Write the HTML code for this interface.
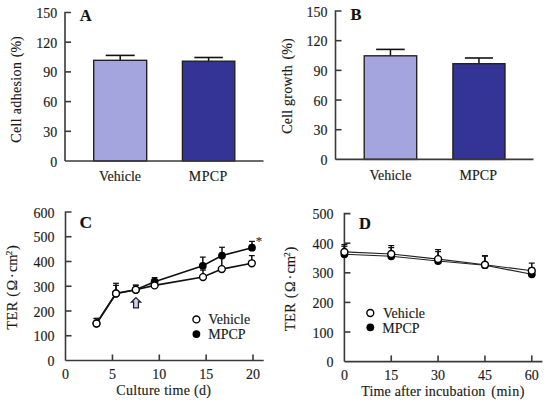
<!DOCTYPE html>
<html><head><meta charset="utf-8"><title>Figure</title>
<style>
html,body{margin:0;padding:0;background:#fff;}
svg{display:block;}
text{font-family:"Liberation Serif",serif;stroke:#1a1a1a;stroke-width:0.15px;}
</style></head>
<body>
<svg width="550" height="405" viewBox="0 0 550 405" font-family="Liberation Serif">
<rect width="550" height="405" fill="#fff"/>
<line x1="120.2" y1="55.4" x2="120.2" y2="60.3" stroke="#111" stroke-width="1.5"/>
<line x1="105.7" y1="55.4" x2="134.7" y2="55.4" stroke="#111" stroke-width="1.6"/>
<rect x="93.7" y="60.3" width="53" height="100.7" fill="#a4a4de" stroke="#1e1e1e" stroke-width="1.35"/>
<line x1="208.6" y1="57.5" x2="208.6" y2="61.2" stroke="#111" stroke-width="1.5"/>
<line x1="194.35" y1="57.5" x2="222.85" y2="57.5" stroke="#111" stroke-width="1.6"/>
<rect x="182.4" y="61.2" width="52.4" height="99.8" fill="#343496" stroke="#1e1e1e" stroke-width="1.35"/>
<path d="M71 12.5 H65 V161" fill="none" stroke="#3a3a3a" stroke-width="1.6"/>
<text x="57.2" y="166.5" text-anchor="end" font-size="14" font-weight="normal" fill="#1a1a1a" >0</text>
<line x1="65" y1="131.3" x2="71" y2="131.3" stroke="#3a3a3a" stroke-width="1.6" />
<text x="57.2" y="136.8" text-anchor="end" font-size="14" font-weight="normal" fill="#1a1a1a" >30</text>
<line x1="65" y1="101.6" x2="71" y2="101.6" stroke="#3a3a3a" stroke-width="1.6" />
<text x="57.2" y="107.1" text-anchor="end" font-size="14" font-weight="normal" fill="#1a1a1a" >60</text>
<line x1="65" y1="71.9" x2="71" y2="71.9" stroke="#3a3a3a" stroke-width="1.6" />
<text x="57.2" y="77.4" text-anchor="end" font-size="14" font-weight="normal" fill="#1a1a1a" >90</text>
<line x1="65" y1="42.2" x2="71" y2="42.2" stroke="#3a3a3a" stroke-width="1.6" />
<text x="57.2" y="47.7" text-anchor="end" font-size="14" font-weight="normal" fill="#1a1a1a" >120</text>
<text x="57.2" y="18.0" text-anchor="end" font-size="14" font-weight="normal" fill="#1a1a1a" >150</text>
<line x1="65" y1="161" x2="263.5" y2="161" stroke="#3a3a3a" stroke-width="1.6" />
<text x="120" y="180.5" text-anchor="middle" font-size="14" font-weight="normal" fill="#1a1a1a" >Vehicle</text>
<text x="208.1" y="180.5" text-anchor="middle" font-size="14" font-weight="normal" fill="#1a1a1a" textLength="38.6" lengthAdjust="spacing">MPCP</text>
<text x="79.8" y="21.4" text-anchor="start" font-size="16.5" font-weight="bold" fill="#111" >A</text>
<g transform="translate(21.3,142.7) rotate(-90)" fill="#1a1a1a" font-size="14"><text x="0" y="0" textLength="80.6" lengthAdjust="spacing">Cell adhesion</text><text x="85.5" y="0">(%)</text></g>
<line x1="390.45" y1="49.4" x2="390.45" y2="55.8" stroke="#111" stroke-width="1.5"/>
<line x1="376.15" y1="49.4" x2="404.75" y2="49.4" stroke="#111" stroke-width="1.6"/>
<rect x="364.2" y="55.8" width="52.5" height="103.6" fill="#a4a4de" stroke="#1e1e1e" stroke-width="1.35"/>
<line x1="478.95" y1="58" x2="478.95" y2="63.7" stroke="#111" stroke-width="1.5"/>
<line x1="464.9" y1="58" x2="493.0" y2="58" stroke="#111" stroke-width="1.6"/>
<rect x="452.9" y="63.7" width="52.1" height="95.7" fill="#343496" stroke="#1e1e1e" stroke-width="1.35"/>
<path d="M341.5 11 H335.5 V159.4" fill="none" stroke="#3a3a3a" stroke-width="1.6"/>
<text x="327.5" y="164.9" text-anchor="end" font-size="14" font-weight="normal" fill="#1a1a1a" >0</text>
<line x1="335.5" y1="129.72" x2="341.5" y2="129.72" stroke="#3a3a3a" stroke-width="1.6" />
<text x="327.5" y="135.22" text-anchor="end" font-size="14" font-weight="normal" fill="#1a1a1a" >30</text>
<line x1="335.5" y1="100.04" x2="341.5" y2="100.04" stroke="#3a3a3a" stroke-width="1.6" />
<text x="327.5" y="105.54" text-anchor="end" font-size="14" font-weight="normal" fill="#1a1a1a" >60</text>
<line x1="335.5" y1="70.36" x2="341.5" y2="70.36" stroke="#3a3a3a" stroke-width="1.6" />
<text x="327.5" y="75.86" text-anchor="end" font-size="14" font-weight="normal" fill="#1a1a1a" >90</text>
<line x1="335.5" y1="40.68" x2="341.5" y2="40.68" stroke="#3a3a3a" stroke-width="1.6" />
<text x="327.5" y="46.18" text-anchor="end" font-size="14" font-weight="normal" fill="#1a1a1a" >120</text>
<text x="327.5" y="16.5" text-anchor="end" font-size="14" font-weight="normal" fill="#1a1a1a" >150</text>
<line x1="335.5" y1="159.4" x2="533.5" y2="159.4" stroke="#3a3a3a" stroke-width="1.6" />
<text x="390.4" y="179.8" text-anchor="middle" font-size="14" font-weight="normal" fill="#1a1a1a" >Vehicle</text>
<text x="478.3" y="179.8" text-anchor="middle" font-size="14" font-weight="normal" fill="#1a1a1a" >MPCP</text>
<text x="350.5" y="20.2" text-anchor="start" font-size="16.5" font-weight="bold" fill="#111" >B</text>
<g transform="translate(291.5,133.8) rotate(-90)" fill="#1a1a1a" font-size="14"><text x="0" y="0" textLength="68.6" lengthAdjust="spacing">Cell growth</text><text x="74.4" y="0">(%)</text></g>
<path d="M71.5 212 H65.5 V360.5" fill="none" stroke="#3a3a3a" stroke-width="1.6"/>
<text x="54.6" y="366.0" text-anchor="end" font-size="14" font-weight="normal" fill="#1a1a1a" >0</text>
<line x1="65.5" y1="335.75" x2="71.5" y2="335.75" stroke="#3a3a3a" stroke-width="1.6" />
<text x="54.6" y="341.25" text-anchor="end" font-size="14" font-weight="normal" fill="#1a1a1a" >100</text>
<line x1="65.5" y1="311.0" x2="71.5" y2="311.0" stroke="#3a3a3a" stroke-width="1.6" />
<text x="54.6" y="316.5" text-anchor="end" font-size="14" font-weight="normal" fill="#1a1a1a" >200</text>
<line x1="65.5" y1="286.25" x2="71.5" y2="286.25" stroke="#3a3a3a" stroke-width="1.6" />
<text x="54.6" y="291.75" text-anchor="end" font-size="14" font-weight="normal" fill="#1a1a1a" >300</text>
<line x1="65.5" y1="261.5" x2="71.5" y2="261.5" stroke="#3a3a3a" stroke-width="1.6" />
<text x="54.6" y="267.0" text-anchor="end" font-size="14" font-weight="normal" fill="#1a1a1a" >400</text>
<line x1="65.5" y1="236.75" x2="71.5" y2="236.75" stroke="#3a3a3a" stroke-width="1.6" />
<text x="54.6" y="242.25" text-anchor="end" font-size="14" font-weight="normal" fill="#1a1a1a" >500</text>
<text x="54.6" y="217.5" text-anchor="end" font-size="14" font-weight="normal" fill="#1a1a1a" >600</text>
<path d="M65.5 360.5 H263.7" stroke="#3a3a3a" stroke-width="1.6"/>
<line x1="112.45" y1="360.5" x2="112.45" y2="354.5" stroke="#3a3a3a" stroke-width="1.6" />
<line x1="159.3" y1="360.5" x2="159.3" y2="354.5" stroke="#3a3a3a" stroke-width="1.6" />
<line x1="206.15" y1="360.5" x2="206.15" y2="354.5" stroke="#3a3a3a" stroke-width="1.6" />
<line x1="253" y1="360.5" x2="253" y2="354.5" stroke="#3a3a3a" stroke-width="1.6" />
<text x="65.6" y="379.1" text-anchor="middle" font-size="14" font-weight="normal" fill="#1a1a1a" >0</text>
<text x="112.45" y="379.1" text-anchor="middle" font-size="14" font-weight="normal" fill="#1a1a1a" >5</text>
<text x="159.3" y="379.1" text-anchor="middle" font-size="14" font-weight="normal" fill="#1a1a1a" >10</text>
<text x="206.15" y="379.1" text-anchor="middle" font-size="14" font-weight="normal" fill="#1a1a1a" >15</text>
<text x="253.0" y="379.1" text-anchor="middle" font-size="14" font-weight="normal" fill="#1a1a1a" >20</text>
<text x="79.6" y="228" text-anchor="start" font-size="17.5" font-weight="bold" fill="#111" >C</text>
<g transform="translate(16.5,329.5) rotate(-90)" fill="#1a1a1a" font-size="14.5"><text x="-0.3" y="0" textLength="28.3" lengthAdjust="spacing">TER</text><text x="32.7" y="0">(</text><text x="39.0" y="0" font-size="15" textLength="10.6" lengthAdjust="spacingAndGlyphs">Ω</text><text x="51.6" y="0">·</text><text x="57.4" y="0">cm</text><text x="74.2" y="-4.4" font-size="9">2</text><text x="79.5" y="0">)</text></g>
<text x="163.6" y="395.2" text-anchor="middle" font-size="14" font-weight="normal" fill="#1a1a1a" textLength="94.5" lengthAdjust="spacing">Culture time (d)</text>
<line x1="96.5" y1="323.5" x2="96.5" y2="318.6" stroke="#111" stroke-width="1.5"/>
<line x1="93.6" y1="318.6" x2="99.4" y2="318.6" stroke="#111" stroke-width="1.25"/>
<line x1="116" y1="293.5" x2="116" y2="285.4" stroke="#111" stroke-width="1.5"/>
<line x1="113.1" y1="285.4" x2="118.9" y2="285.4" stroke="#111" stroke-width="1.25"/>
<line x1="135.8" y1="289.8" x2="135.8" y2="285.2" stroke="#111" stroke-width="1.5"/>
<line x1="132.9" y1="285.2" x2="138.7" y2="285.2" stroke="#111" stroke-width="1.25"/>
<line x1="154.6" y1="281.7" x2="154.6" y2="277.6" stroke="#111" stroke-width="1.5"/>
<line x1="151.7" y1="277.6" x2="157.5" y2="277.6" stroke="#111" stroke-width="1.25"/>
<line x1="202.8" y1="265.8" x2="202.8" y2="257.1" stroke="#111" stroke-width="1.5"/>
<line x1="199.9" y1="257.1" x2="205.7" y2="257.1" stroke="#111" stroke-width="1.25"/>
<line x1="222" y1="255.6" x2="222" y2="247.3" stroke="#111" stroke-width="1.5"/>
<line x1="219.1" y1="247.3" x2="224.9" y2="247.3" stroke="#111" stroke-width="1.25"/>
<line x1="252" y1="247.7" x2="252" y2="241.4" stroke="#111" stroke-width="1.5"/>
<line x1="249.1" y1="241.4" x2="254.9" y2="241.4" stroke="#111" stroke-width="1.25"/>
<line x1="96.5" y1="323.5" x2="96.5" y2="318.3" stroke="#111" stroke-width="1.5"/>
<line x1="93.6" y1="318.3" x2="99.4" y2="318.3" stroke="#111" stroke-width="1.25"/>
<line x1="116" y1="293.5" x2="116" y2="283.3" stroke="#111" stroke-width="1.5"/>
<line x1="113.1" y1="283.3" x2="118.9" y2="283.3" stroke="#111" stroke-width="1.25"/>
<line x1="135.8" y1="289.8" x2="135.8" y2="285.2" stroke="#111" stroke-width="1.5"/>
<line x1="132.9" y1="285.2" x2="138.7" y2="285.2" stroke="#111" stroke-width="1.25"/>
<line x1="203" y1="277.1" x2="203" y2="270.1" stroke="#111" stroke-width="1.5"/>
<line x1="200.1" y1="270.1" x2="205.9" y2="270.1" stroke="#111" stroke-width="1.25"/>
<line x1="221.8" y1="269.1" x2="221.8" y2="256" stroke="#111" stroke-width="1.5"/>
<line x1="218.9" y1="256" x2="224.7" y2="256" stroke="#111" stroke-width="1.25"/>
<line x1="251.8" y1="263.3" x2="251.8" y2="255.6" stroke="#111" stroke-width="1.5"/>
<line x1="248.9" y1="255.6" x2="254.7" y2="255.6" stroke="#111" stroke-width="1.25"/>
<polyline points="96.5,323.5 116,293.5 135.8,289.8 154.6,281.7 202.8,265.8 222,255.6 252,247.7" fill="none" stroke="#111" stroke-width="1.6"/>
<polyline points="96.5,323.5 116,293.5 135.8,289.8 154.6,285.4 203,277.1 221.8,269.1 251.8,263.3" fill="none" stroke="#111" stroke-width="1.6"/>
<circle cx="96.5" cy="323.5" r="3.9" fill="#000"/>
<circle cx="116" cy="293.5" r="3.9" fill="#000"/>
<circle cx="135.8" cy="289.8" r="3.9" fill="#000"/>
<circle cx="154.6" cy="281.7" r="3.9" fill="#000"/>
<circle cx="202.8" cy="265.8" r="3.9" fill="#000"/>
<circle cx="222" cy="255.6" r="3.9" fill="#000"/>
<circle cx="252" cy="247.7" r="3.9" fill="#000"/>
<circle cx="96.5" cy="323.5" r="3.45" fill="#fff" stroke="#000" stroke-width="1.4"/>
<circle cx="116" cy="293.5" r="3.45" fill="#fff" stroke="#000" stroke-width="1.4"/>
<circle cx="135.8" cy="289.8" r="3.45" fill="#fff" stroke="#000" stroke-width="1.4"/>
<circle cx="154.6" cy="285.4" r="3.45" fill="#fff" stroke="#000" stroke-width="1.4"/>
<circle cx="203" cy="277.1" r="3.45" fill="#fff" stroke="#000" stroke-width="1.4"/>
<circle cx="221.8" cy="269.1" r="3.45" fill="#fff" stroke="#000" stroke-width="1.4"/>
<circle cx="251.8" cy="263.3" r="3.45" fill="#fff" stroke="#000" stroke-width="1.4"/>
<path d="M136 297.6 L140.6 302 L138.4 302 L138.4 307.8 L133.6 307.8 L133.6 302 L131.4 302 Z" fill="#d2d2f4" stroke="#222" stroke-width="1.3" stroke-linejoin="miter"/>
<text x="259" y="245" text-anchor="middle" font-size="13" font-weight="normal" fill="#555" >*</text>
<circle cx="196.4" cy="319.4" r="3.45" fill="#fff" stroke="#000" stroke-width="1.4"/>
<circle cx="196.4" cy="334.1" r="3.9" fill="#000"/>
<text x="208.2" y="323.8" text-anchor="start" font-size="14" font-weight="normal" fill="#1a1a1a" >Vehicle</text>
<text x="208.2" y="338.6" text-anchor="start" font-size="14" font-weight="normal" fill="#1a1a1a" >MPCP</text>
<path d="M350.4 213.6 H344.4 V361.6" fill="none" stroke="#3a3a3a" stroke-width="1.6"/>
<text x="333.6" y="367.1" text-anchor="end" font-size="14" font-weight="normal" fill="#1a1a1a" >0</text>
<line x1="344.4" y1="332.0" x2="350.4" y2="332.0" stroke="#3a3a3a" stroke-width="1.6" />
<text x="333.6" y="337.5" text-anchor="end" font-size="14" font-weight="normal" fill="#1a1a1a" >100</text>
<line x1="344.4" y1="302.4" x2="350.4" y2="302.4" stroke="#3a3a3a" stroke-width="1.6" />
<text x="333.6" y="307.9" text-anchor="end" font-size="14" font-weight="normal" fill="#1a1a1a" >200</text>
<line x1="344.4" y1="272.8" x2="350.4" y2="272.8" stroke="#3a3a3a" stroke-width="1.6" />
<text x="333.6" y="278.3" text-anchor="end" font-size="14" font-weight="normal" fill="#1a1a1a" >300</text>
<line x1="344.4" y1="243.2" x2="350.4" y2="243.2" stroke="#3a3a3a" stroke-width="1.6" />
<text x="333.6" y="248.7" text-anchor="end" font-size="14" font-weight="normal" fill="#1a1a1a" >400</text>
<text x="333.6" y="219.1" text-anchor="end" font-size="14" font-weight="normal" fill="#1a1a1a" >500</text>
<path d="M344.4 361.6 H542.4" stroke="#3a3a3a" stroke-width="1.6"/>
<line x1="391.25" y1="361.6" x2="391.25" y2="355.4" stroke="#3a3a3a" stroke-width="1.6" />
<line x1="438.09" y1="361.6" x2="438.09" y2="355.4" stroke="#3a3a3a" stroke-width="1.6" />
<line x1="484.93" y1="361.6" x2="484.93" y2="355.4" stroke="#3a3a3a" stroke-width="1.6" />
<line x1="531.78" y1="361.6" x2="531.78" y2="355.4" stroke="#3a3a3a" stroke-width="1.6" />
<text x="344.4" y="380.2" text-anchor="middle" font-size="14" font-weight="normal" fill="#1a1a1a" >0</text>
<text x="391.25" y="380.2" text-anchor="middle" font-size="14" font-weight="normal" fill="#1a1a1a" >15</text>
<text x="438.09" y="380.2" text-anchor="middle" font-size="14" font-weight="normal" fill="#1a1a1a" >30</text>
<text x="484.93" y="380.2" text-anchor="middle" font-size="14" font-weight="normal" fill="#1a1a1a" >45</text>
<text x="531.78" y="380.2" text-anchor="middle" font-size="14" font-weight="normal" fill="#1a1a1a" >60</text>
<text x="359" y="228.8" text-anchor="start" font-size="16.5" font-weight="bold" fill="#111" >D</text>
<g transform="translate(294.6,331) rotate(-90)" fill="#1a1a1a" font-size="14.5"><text x="-0.3" y="0" textLength="28.3" lengthAdjust="spacing">TER</text><text x="32.7" y="0">(</text><text x="39.0" y="0" font-size="15" textLength="10.6" lengthAdjust="spacingAndGlyphs">Ω</text><text x="51.6" y="0">·</text><text x="57.4" y="0">cm</text><text x="74.2" y="-4.4" font-size="9">2</text><text x="79.5" y="0">)</text></g>
<text x="361.3" y="395.5" fill="#1a1a1a" font-size="14" textLength="124" lengthAdjust="spacing">Time after incubation</text>
<text x="491.3" y="395.5" fill="#1a1a1a" font-size="14" textLength="33" lengthAdjust="spacing">(min)</text>
<line x1="344.4" y1="254.3" x2="344.4" y2="246.3" stroke="#111" stroke-width="1.5"/>
<line x1="341.4" y1="246.3" x2="347.4" y2="246.3" stroke="#111" stroke-width="1.2"/>
<line x1="391.25" y1="256.3" x2="391.25" y2="247.6" stroke="#111" stroke-width="1.5"/>
<line x1="388.25" y1="247.6" x2="394.25" y2="247.6" stroke="#111" stroke-width="1.2"/>
<line x1="438.09" y1="261" x2="438.09" y2="251.6" stroke="#111" stroke-width="1.5"/>
<line x1="435.09" y1="251.6" x2="441.09" y2="251.6" stroke="#111" stroke-width="1.2"/>
<line x1="484.93" y1="265.2" x2="484.93" y2="256.2" stroke="#111" stroke-width="1.5"/>
<line x1="481.93" y1="256.2" x2="487.93" y2="256.2" stroke="#111" stroke-width="1.2"/>
<line x1="531.78" y1="274.3" x2="531.78" y2="268" stroke="#111" stroke-width="1.5"/>
<line x1="528.78" y1="268" x2="534.78" y2="268" stroke="#111" stroke-width="1.2"/>
<line x1="344.4" y1="251.9" x2="344.4" y2="244.6" stroke="#111" stroke-width="1.5"/>
<line x1="341.4" y1="244.6" x2="347.4" y2="244.6" stroke="#111" stroke-width="1.2"/>
<line x1="391.25" y1="254" x2="391.25" y2="245.6" stroke="#111" stroke-width="1.5"/>
<line x1="388.25" y1="245.6" x2="394.25" y2="245.6" stroke="#111" stroke-width="1.2"/>
<line x1="438.09" y1="259.1" x2="438.09" y2="249.6" stroke="#111" stroke-width="1.5"/>
<line x1="435.09" y1="249.6" x2="441.09" y2="249.6" stroke="#111" stroke-width="1.2"/>
<line x1="484.93" y1="264.7" x2="484.93" y2="255.6" stroke="#111" stroke-width="1.5"/>
<line x1="481.93" y1="255.6" x2="487.93" y2="255.6" stroke="#111" stroke-width="1.2"/>
<line x1="531.78" y1="270.8" x2="531.78" y2="263.1" stroke="#111" stroke-width="1.5"/>
<line x1="528.78" y1="263.1" x2="534.78" y2="263.1" stroke="#111" stroke-width="1.2"/>
<polyline points="344.4,254.3 391.25,256.3 438.09,261 484.93,265.2 531.78,274.3" fill="none" stroke="#222" stroke-width="1.15"/>
<polyline points="344.4,251.9 391.25,254 438.09,259.1 484.93,264.7 531.78,270.8" fill="none" stroke="#222" stroke-width="1.15"/>
<circle cx="344.4" cy="254.3" r="3.9" fill="#000"/>
<circle cx="391.25" cy="256.3" r="3.9" fill="#000"/>
<circle cx="438.09" cy="261" r="3.9" fill="#000"/>
<circle cx="484.93" cy="265.2" r="3.9" fill="#000"/>
<circle cx="531.78" cy="274.3" r="3.9" fill="#000"/>
<circle cx="344.4" cy="251.9" r="3.45" fill="#fff" stroke="#000" stroke-width="1.4"/>
<circle cx="391.25" cy="254" r="3.45" fill="#fff" stroke="#000" stroke-width="1.4"/>
<circle cx="438.09" cy="259.1" r="3.45" fill="#fff" stroke="#000" stroke-width="1.4"/>
<circle cx="484.93" cy="264.7" r="3.45" fill="#fff" stroke="#000" stroke-width="1.4"/>
<circle cx="531.78" cy="270.8" r="3.45" fill="#fff" stroke="#000" stroke-width="1.4"/>
<circle cx="370.3" cy="313" r="3.45" fill="#fff" stroke="#000" stroke-width="1.4"/>
<circle cx="370.3" cy="327.3" r="3.9" fill="#000"/>
<text x="383" y="317.5" text-anchor="start" font-size="14" font-weight="normal" fill="#1a1a1a" >Vehicle</text>
<text x="382.3" y="332.7" text-anchor="start" font-size="14" font-weight="normal" fill="#1a1a1a" >MPCP</text>
</svg>
</body></html>
